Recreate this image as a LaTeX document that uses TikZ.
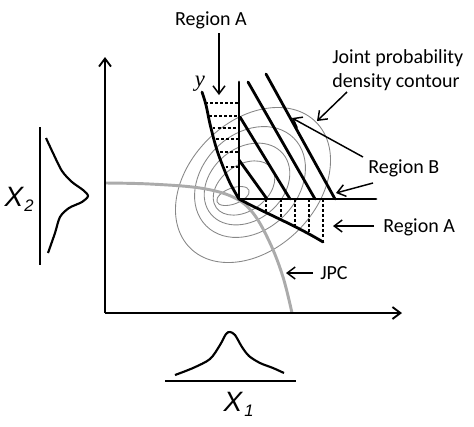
\documentclass[tikz,border=0pt]{standalone}
\usepackage{fontspec}
\setmainfont{Carlito}
\newfontfamily\xfont{Liberation Sans}
\newfontfamily\yfont{Liberation Serif}
\usetikzlibrary{arrows.meta}
\begin{document}
\begin{tikzpicture}[x=0.75pt,y=-0.75pt,
  axisline/.style={line width=1.6pt,-{Straight Barb[length=6pt,width=9pt,line width=1.4pt]}},
  boundary/.style={line width=2.1pt,line cap=round},
  hatchline/.style={line width=2.1pt,line cap=round},
  dashline/.style={line width=0.8pt,dash pattern=on 2.2pt off 1.6pt},
  annot/.style={line width=1.1pt,-{Straight Barb[length=6pt,width=9pt,line width=1.1pt]}},
  contourline/.style={draw=black!47,line width=0.65pt},
  jpcline/.style={draw=black!33,line width=2.2pt},
  margline/.style={line width=1pt},
  margcurve/.style={line width=1.6pt},
  lbl/.style={font=\fontsize{15}{18}\selectfont,inner sep=0pt,anchor=west,align=left},
  xlbl/.style={font=\fontsize{21}{24}\xfont\itshape,inner sep=0pt}
]
\useasboundingbox (0,0) rectangle (474,426);

% density contours
\draw[contourline,rotate around={45:(253,185)}] (253,185) ellipse [x radius=89, y radius=64];
\draw[contourline,rotate around={45:(250,182)}] (250,182) ellipse [x radius=62, y radius=48];
\draw[contourline,rotate around={40:(247,184)}] (247,184) ellipse [x radius=47, y radius=36];
\draw[contourline,rotate around={35:(244,188)}] (244,188) ellipse [x radius=34, y radius=23];
\draw[contourline,rotate around={20:(233,196)}] (233,196) ellipse [x radius=17, y radius=8];

% JPC
\draw[jpcline] plot[smooth,tension=0.6] coordinates {(105,183) (150,184) (200,188) (233,197) (253,213) (270,243) (283,277) (292,313)};

% axes
\coordinate (O) at (105,313);
\coordinate (ytip) at (105,57);
\coordinate (xtip) at (402,313);
\draw[axisline] (O) -- (ytip);
\draw[axisline] (O) -- (xtip);

% dashed lines region A (upper)
\foreach \yy/\xx in {103/205,116/209,128/212.5,139/216,152/220,167/225.5}
  \draw[dashline] (\xx,\yy) -- (239,\yy);
% dashed lines region A (lower)
\foreach \xx/\yy in {266/213.5,281/220.5,295/227,309/234,323/242}
  \draw[dashline] (\xx,199) -- (\xx,\yy);

% boundaries
\coordinate (C) at (239,199);
\draw[boundary] plot[smooth,tension=0.6] coordinates {(202,92) (206,105) (210,124) (216,147) (222,164) (230,183) (239,199)};
\draw[boundary] (239,82) -- (C) -- (376,199);
\draw[boundary] (C) .. controls (265,213) and (295,225) .. (323,242);

% region B hatching
\draw[hatchline] (239,160) -- (267,199);
\draw[hatchline] (240,117) -- (290,199);
\draw[hatchline] (248,82) -- (315,199);
\draw[hatchline] (266,74) -- (335,199);

% labels
\node[font=\fontsize{17}{20}\yfont\itshape,inner sep=0pt] (ylab) at (200,84) {y};
\node[lbl,anchor=center] (rAtop) at (211,20) {Region A};
\node[lbl,anchor=north west] (jpd) at (332,49) {Joint probability\\density contour};
\node[lbl] (rB) at (368,168) {Region B};
\node[lbl] (rAr) at (383,227) {Region A};
\node[lbl] (jpc) at (320,273) {JPC};

% annotation arrows
\coordinate (a1s) at (219,33);
\coordinate (a1e) at (219,95);
\draw[annot] (a1s) -- (a1e);
\coordinate (a2s) at (347,92);
\coordinate (a2e) at (317,121);
\draw[annot] (a2s) -- (a2e);
\coordinate (a3s) at (363,157);
\coordinate (a3e) at (292,118);
\draw[annot] (a3s) -- (a3e);
\coordinate (a4s) at (373,183);
\coordinate (a4e) at (336,193);
\draw[annot] (a4s) -- (a4e);
\coordinate (a5s) at (374,226);
\coordinate (a5e) at (333,226);
\draw[annot] (a5s) -- (a5e);
\coordinate (a6s) at (313,273);
\coordinate (a6e) at (286,273);
\draw[annot] (a6s) -- (a6e);

% marginal X2
\draw[margline] (40,127) -- (40,265);
\draw[margcurve] plot[smooth,tension=0.5] coordinates {(46,138) (53,153) (62,171) (72,182) (83,190) (88,196) (82,202) (69,208) (60,217) (55,233) (48,253)};
\node[xlbl] (x2) at (14,197) {X};
\node[font=\fontsize{12.5}{14}\xfont\itshape,inner sep=0pt] (x2s) at (29,206) {2};

% marginal X1
\draw[margline] (165,381) -- (296,381);
\draw[margcurve] plot[smooth,tension=0.5] coordinates {(175,375) (193,368) (210,359) (220,345) (226,334) (230,332) (235,335) (242,347) (249,356) (260,363) (273,368) (284,373)};
\node[xlbl] (x1) at (233,402) {X};
\node[font=\fontsize{12.5}{14}\xfont\itshape,inner sep=0pt] (x1s) at (249,411) {1};

\end{tikzpicture}
\end{document}
